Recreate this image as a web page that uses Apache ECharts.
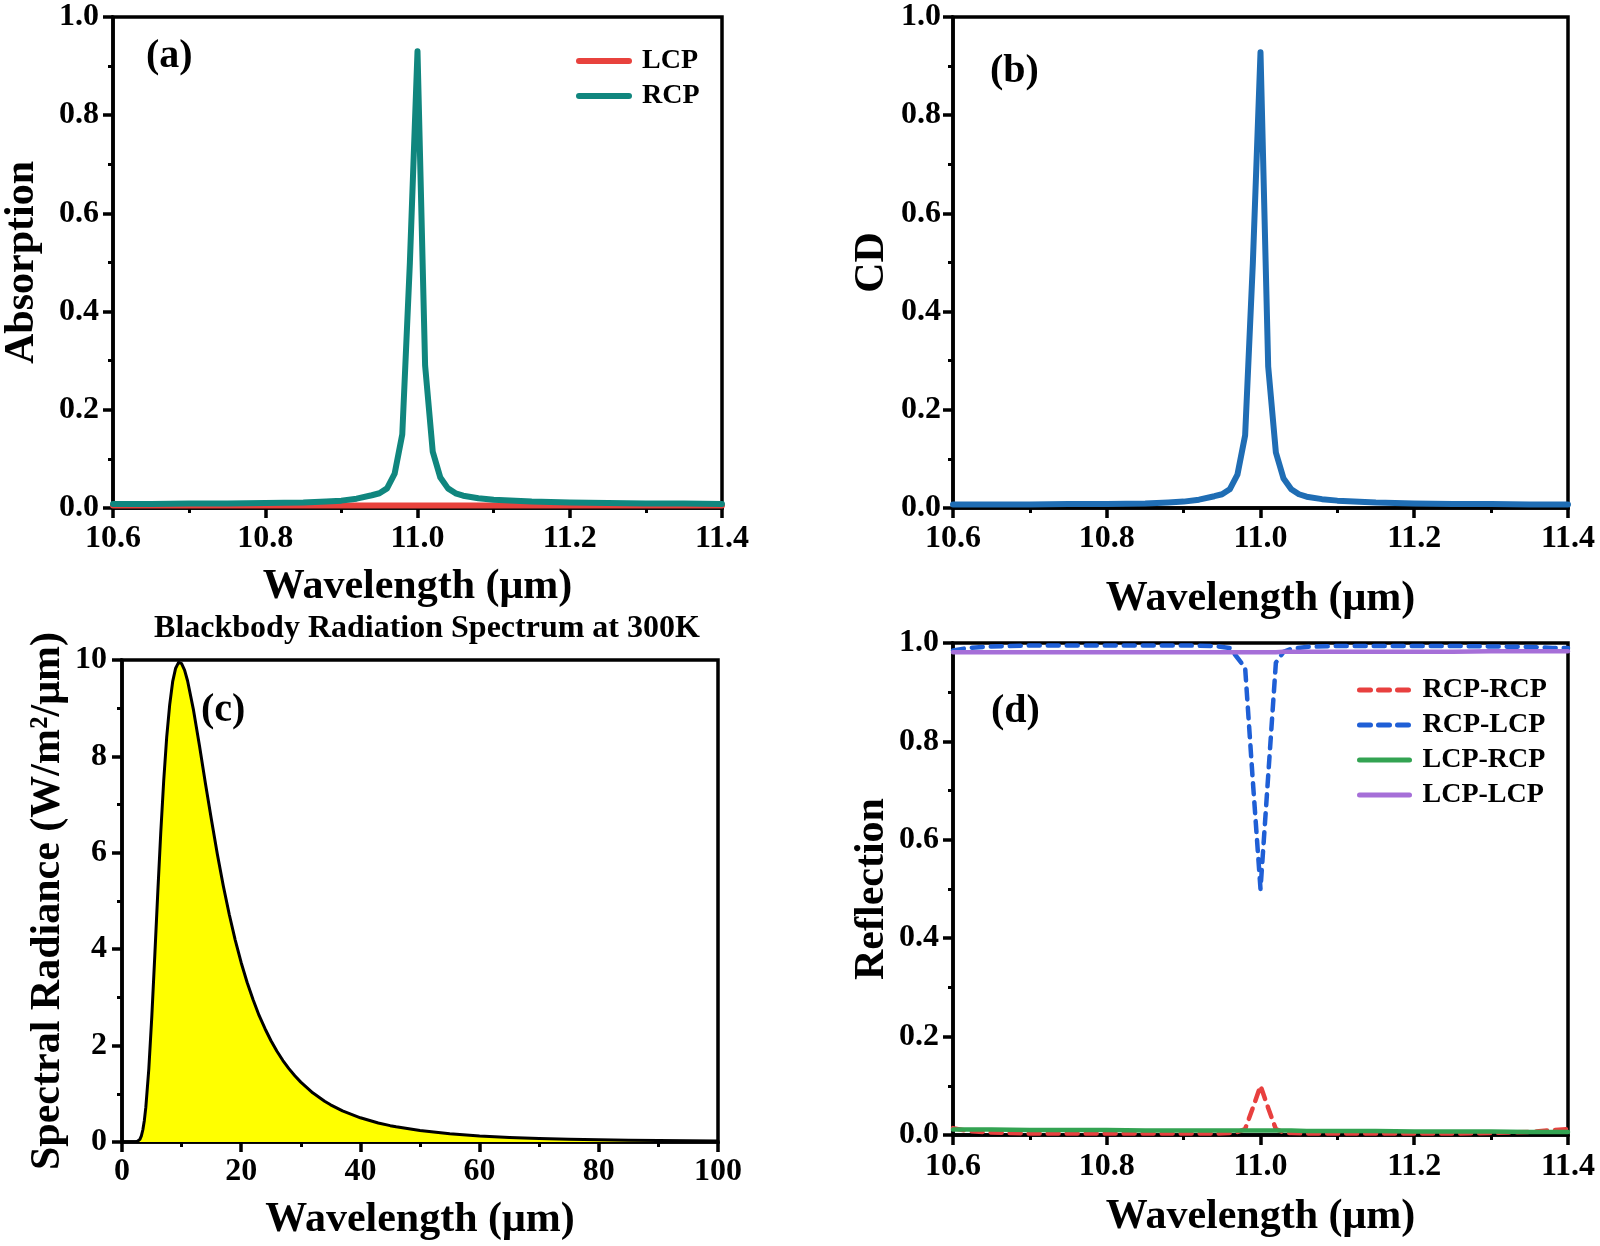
<!DOCTYPE html>
<html>
<head>
<meta charset="utf-8">
<script src="https://cdn.jsdelivr.net/npm/echarts@6/dist/echarts.min.js"></script>
<style>
html,body{margin:0;padding:0;background:#fff;}
#chart{width:1600px;height:1246px;}
</style>
</head>
<body>
<div id="chart"></div>
<script>
// ---------- data ----------
// Panel (a)/(b) wavelengths (μm)
var wlA = [10.6, 10.65, 10.7, 10.75, 10.8, 10.85, 10.88, 10.9, 10.92, 10.94, 10.95, 10.96, 10.97, 10.98, 10.99, 11.0, 11.01, 11.02, 11.03, 11.04, 11.05, 11.06, 11.08, 11.1, 11.15, 11.2, 11.25, 11.3, 11.35, 11.4];
var absLCP = [0.005, 0.005, 0.005, 0.005, 0.005, 0.005, 0.005, 0.005, 0.005, 0.005, 0.005, 0.005, 0.005, 0.005, 0.005, 0.005, 0.005, 0.005, 0.005, 0.005, 0.005, 0.005, 0.005, 0.005, 0.005, 0.005, 0.005, 0.005, 0.005, 0.005];
var absRCP = [0.008, 0.008, 0.009, 0.009, 0.010, 0.011, 0.013, 0.015, 0.019, 0.026, 0.030, 0.040, 0.070, 0.150, 0.500, 0.930, 0.290, 0.115, 0.062, 0.040, 0.030, 0.025, 0.020, 0.017, 0.013, 0.011, 0.010, 0.009, 0.009, 0.008];
var cdVals = [0.007, 0.007, 0.007, 0.008, 0.008, 0.009, 0.011, 0.013, 0.017, 0.024, 0.028, 0.038, 0.068, 0.148, 0.497, 0.928, 0.288, 0.113, 0.060, 0.038, 0.028, 0.023, 0.018, 0.015, 0.011, 0.009, 0.008, 0.008, 0.007, 0.007];

// Panel (c) blackbody spectrum at 300K
var wlC = [2.5, 2.8, 3, 3.25, 3.5, 3.75, 4, 4.5, 5, 5.5, 6, 6.5, 7, 7.5, 8, 8.5, 9, 9.5, 10, 10.5, 11, 12, 13, 14, 15, 16, 17, 18, 19, 20, 21, 22, 23, 24, 25, 26, 27, 28, 29, 30, 32, 34, 35, 37, 40, 43, 45, 46, 50, 55, 60, 65, 70, 75, 80, 85, 90, 95, 100];
var radiance = [0.006, 0.025, 0.056, 0.128, 0.254, 0.448, 0.722, 1.518, 2.60, 3.862, 5.17, 6.41, 7.50, 8.40, 9.07, 9.55, 9.83, 9.95, 9.925, 9.79, 9.57, 8.96, 8.22, 7.44, 6.69, 5.97, 5.31, 4.72, 4.19, 3.72, 3.309, 2.95, 2.626, 2.35, 2.10, 1.882, 1.69, 1.523, 1.374, 1.242, 1.021, 0.846, 0.772, 0.647, 0.502, 0.395, 0.339, 0.315, 0.237, 0.170, 0.125, 0.094, 0.072, 0.056, 0.0443, 0.0354, 0.0287, 0.0234, 0.0194];

// Panel (d) reflection
var wlD = [10.6, 10.62, 10.65, 10.7, 10.75, 10.8, 10.85, 10.9, 10.94, 10.96, 10.97, 10.98, 10.99, 11.0, 11.01, 11.02, 11.03, 11.04, 11.06, 11.1, 11.15, 11.2, 11.25, 11.3, 11.35, 11.38, 11.4];
var rRR = [0.014, 0.008, 0.005, 0.003, 0.003, 0.003, 0.003, 0.003, 0.003, 0.004, 0.006, 0.012, 0.055, 0.100, 0.055, 0.012, 0.005, 0.004, 0.003, 0.003, 0.003, 0.003, 0.003, 0.004, 0.006, 0.010, 0.012];
var rRL = [0.985, 0.990, 0.993, 0.995, 0.995, 0.995, 0.995, 0.995, 0.994, 0.990, 0.970, 0.950, 0.720, 0.500, 0.730, 0.960, 0.982, 0.988, 0.992, 0.994, 0.994, 0.994, 0.994, 0.993, 0.992, 0.990, 0.990];
var rLR = [0.011, 0.011, 0.011, 0.010, 0.010, 0.010, 0.009, 0.009, 0.009, 0.009, 0.009, 0.009, 0.009, 0.009, 0.009, 0.009, 0.009, 0.009, 0.008, 0.008, 0.008, 0.007, 0.007, 0.007, 0.006, 0.006, 0.006];
var rLL = [0.981, 0.981, 0.981, 0.981, 0.981, 0.981, 0.981, 0.981, 0.981, 0.981, 0.981, 0.981, 0.981, 0.981, 0.981, 0.981, 0.982, 0.982, 0.982, 0.982, 0.982, 0.982, 0.982, 0.983, 0.983, 0.983, 0.983];

var panelLabels = ['(a)', '(b)', '(c)', '(d)'];
var titleC = 'Blackbody Radiation Spectrum at 300K';

// ---------- helpers ----------
var FF = '"Liberation Serif", "Times New Roman", serif';
function pairs(xs, ys) { return xs.map(function (x, i) { return [x, ys[i]]; }); }

function axisBase(gridIndex, min, max, interval, name, nameGap, labelFmt, labelMargin) {
  return {
    type: 'value', gridIndex: gridIndex, min: min, max: max, interval: interval,
    name: name, nameLocation: 'middle', nameGap: nameGap,
    nameTextStyle: { fontFamily: FF, fontWeight: 'bold', fontSize: 42, color: '#000' },
    axisLine: { show: true, onZero: false, lineStyle: { color: '#000', width: 3.5 } },
    axisTick: { show: true, inside: false, length: 10, lineStyle: { color: '#000', width: 3.5 } },
    minorTick: { show: true, splitNumber: 2, length: 5, lineStyle: { color: '#000', width: 3 } },
    splitLine: { show: false },
    minorSplitLine: { show: false },
    axisLabel: {
      show: true, margin: labelMargin, fontFamily: FF, fontWeight: 'bold', fontSize: 32, color: '#000',
      showMinLabel: true, showMaxLabel: true, formatter: labelFmt
    }
  };
}
function f1(v) { return Number(v).toFixed(1); }
function f0(v) { return String(Math.round(v)); }

function lineSeries(name, xi, yi, xs, ys, color, width, dashed) {
  return {
    name: name, type: 'line', xAxisIndex: xi, yAxisIndex: yi,
    data: pairs(xs, ys), symbol: 'none', showSymbol: false, smooth: false,
    lineStyle: { color: color, width: width, type: dashed ? [11, 8] : 'solid', cap: 'round', join: 'round' },
    itemStyle: { color: color },
    emphasis: { disabled: true }, animation: false
  };
}

var gridStyle = { show: true, borderColor: '#000', borderWidth: 3.5, backgroundColor: 'transparent' };
var legendText = { fontFamily: FF, fontWeight: 'bold', fontSize: 28, color: '#000', lineHeight: 28, padding: [0, 0, 0, 8] };

var option = {
  backgroundColor: '#fff',
  animation: false,
  grid: [
    Object.assign({ left: 111, top: 17, width: 611, height: 491 }, gridStyle),
    Object.assign({ left: 953, top: 17, width: 615, height: 491 }, gridStyle),
    Object.assign({ left: 122, top: 660, width: 596, height: 482 }, gridStyle),
    Object.assign({ left: 953, top: 643, width: 615, height: 492 }, gridStyle)
  ],
  xAxis: [
    axisBase(0, 10.6, 11.4, 0.2, 'Wavelength (μm)', 58, f1, 15),
    axisBase(1, 10.6, 11.4, 0.2, 'Wavelength (μm)', 70, f1, 15),
    axisBase(2, 0, 100, 20, 'Wavelength (μm)', 57, f0, 14),
    axisBase(3, 10.6, 11.4, 0.2, 'Wavelength (μm)', 61, f1, 16)
  ],
  yAxis: [
    axisBase(0, 0, 1, 0.2, 'Absorption', 70, f1, 14),
    axisBase(1, 0, 1, 0.2, 'CD', 60, f1, 12),
    axisBase(2, 0, 10, 2, 'Spectral Radiance (W/m²/μm)', 53, f0, 15),
    axisBase(3, 0, 1, 0.2, 'Reflection', 60, f1, 14)
  ],
  legend: [
    {
      data: ['LCP', 'RCP'], orient: 'vertical', left: 576, top: 47, padding: 0,
      itemWidth: 50, itemHeight: 14, itemGap: 7,
      itemStyle: { opacity: 0 },
      lineStyle: { width: 6, cap: 'round' },
      textStyle: legendText,
      selectedMode: false
    },
    {
      data: ['RCP-RCP', 'RCP-LCP', 'LCP-RCP', 'LCP-LCP'], orient: 'vertical', left: 1357, top: 676, padding: 0,
      itemWidth: 50, itemHeight: 14, itemGap: 7,
      itemStyle: { opacity: 0 },
      lineStyle: { width: 5, cap: 'round' },
      textStyle: legendText,
      selectedMode: false
    }
  ],
  graphic: [
    { type: 'text', x: 146, y: 57, style: { text: panelLabels[0], font: 'bold 40px ' + FF, fill: '#000', verticalAlign: 'middle' } },
    { type: 'text', x: 990, y: 72, style: { text: panelLabels[1], font: 'bold 40px ' + FF, fill: '#000', verticalAlign: 'middle' } },
    { type: 'text', x: 201, y: 711, style: { text: panelLabels[2], font: 'bold 40px ' + FF, fill: '#000', verticalAlign: 'middle' } },
    { type: 'text', x: 991, y: 712, style: { text: panelLabels[3], font: 'bold 40px ' + FF, fill: '#000', verticalAlign: 'middle' } },
    { type: 'text', x: 427, y: 629, style: { text: titleC, font: 'bold 32px ' + FF, fill: '#000', align: 'center', verticalAlign: 'middle' } }
  ],
  series: [
    lineSeries('LCP', 0, 0, wlA, absLCP, '#e8423d', 6, false),
    lineSeries('RCP', 0, 0, wlA, absRCP, '#10867e', 6, false),
    lineSeries('CD', 1, 1, wlA, cdVals, '#1f6db4', 6, false),
    Object.assign(lineSeries('Radiance', 2, 2, wlC, radiance, '#000', 3, false), {
      areaStyle: { color: '#ffff00', opacity: 1 }
    }),
    lineSeries('RCP-RCP', 3, 3, wlD, rRR, '#e8403f', 4.5, true),
    lineSeries('RCP-LCP', 3, 3, wlD, rRL, '#1f5fd6', 4.5, true),
    lineSeries('LCP-RCP', 3, 3, wlD, rLR, '#33a352', 4.5, false),
    lineSeries('LCP-LCP', 3, 3, wlD, rLL, '#a66fd8', 4.5, false)
  ]
};

var chart = echarts.init(document.getElementById('chart'), null, { renderer: 'canvas' });
chart.setOption(option);
</script>
</body>
</html>
